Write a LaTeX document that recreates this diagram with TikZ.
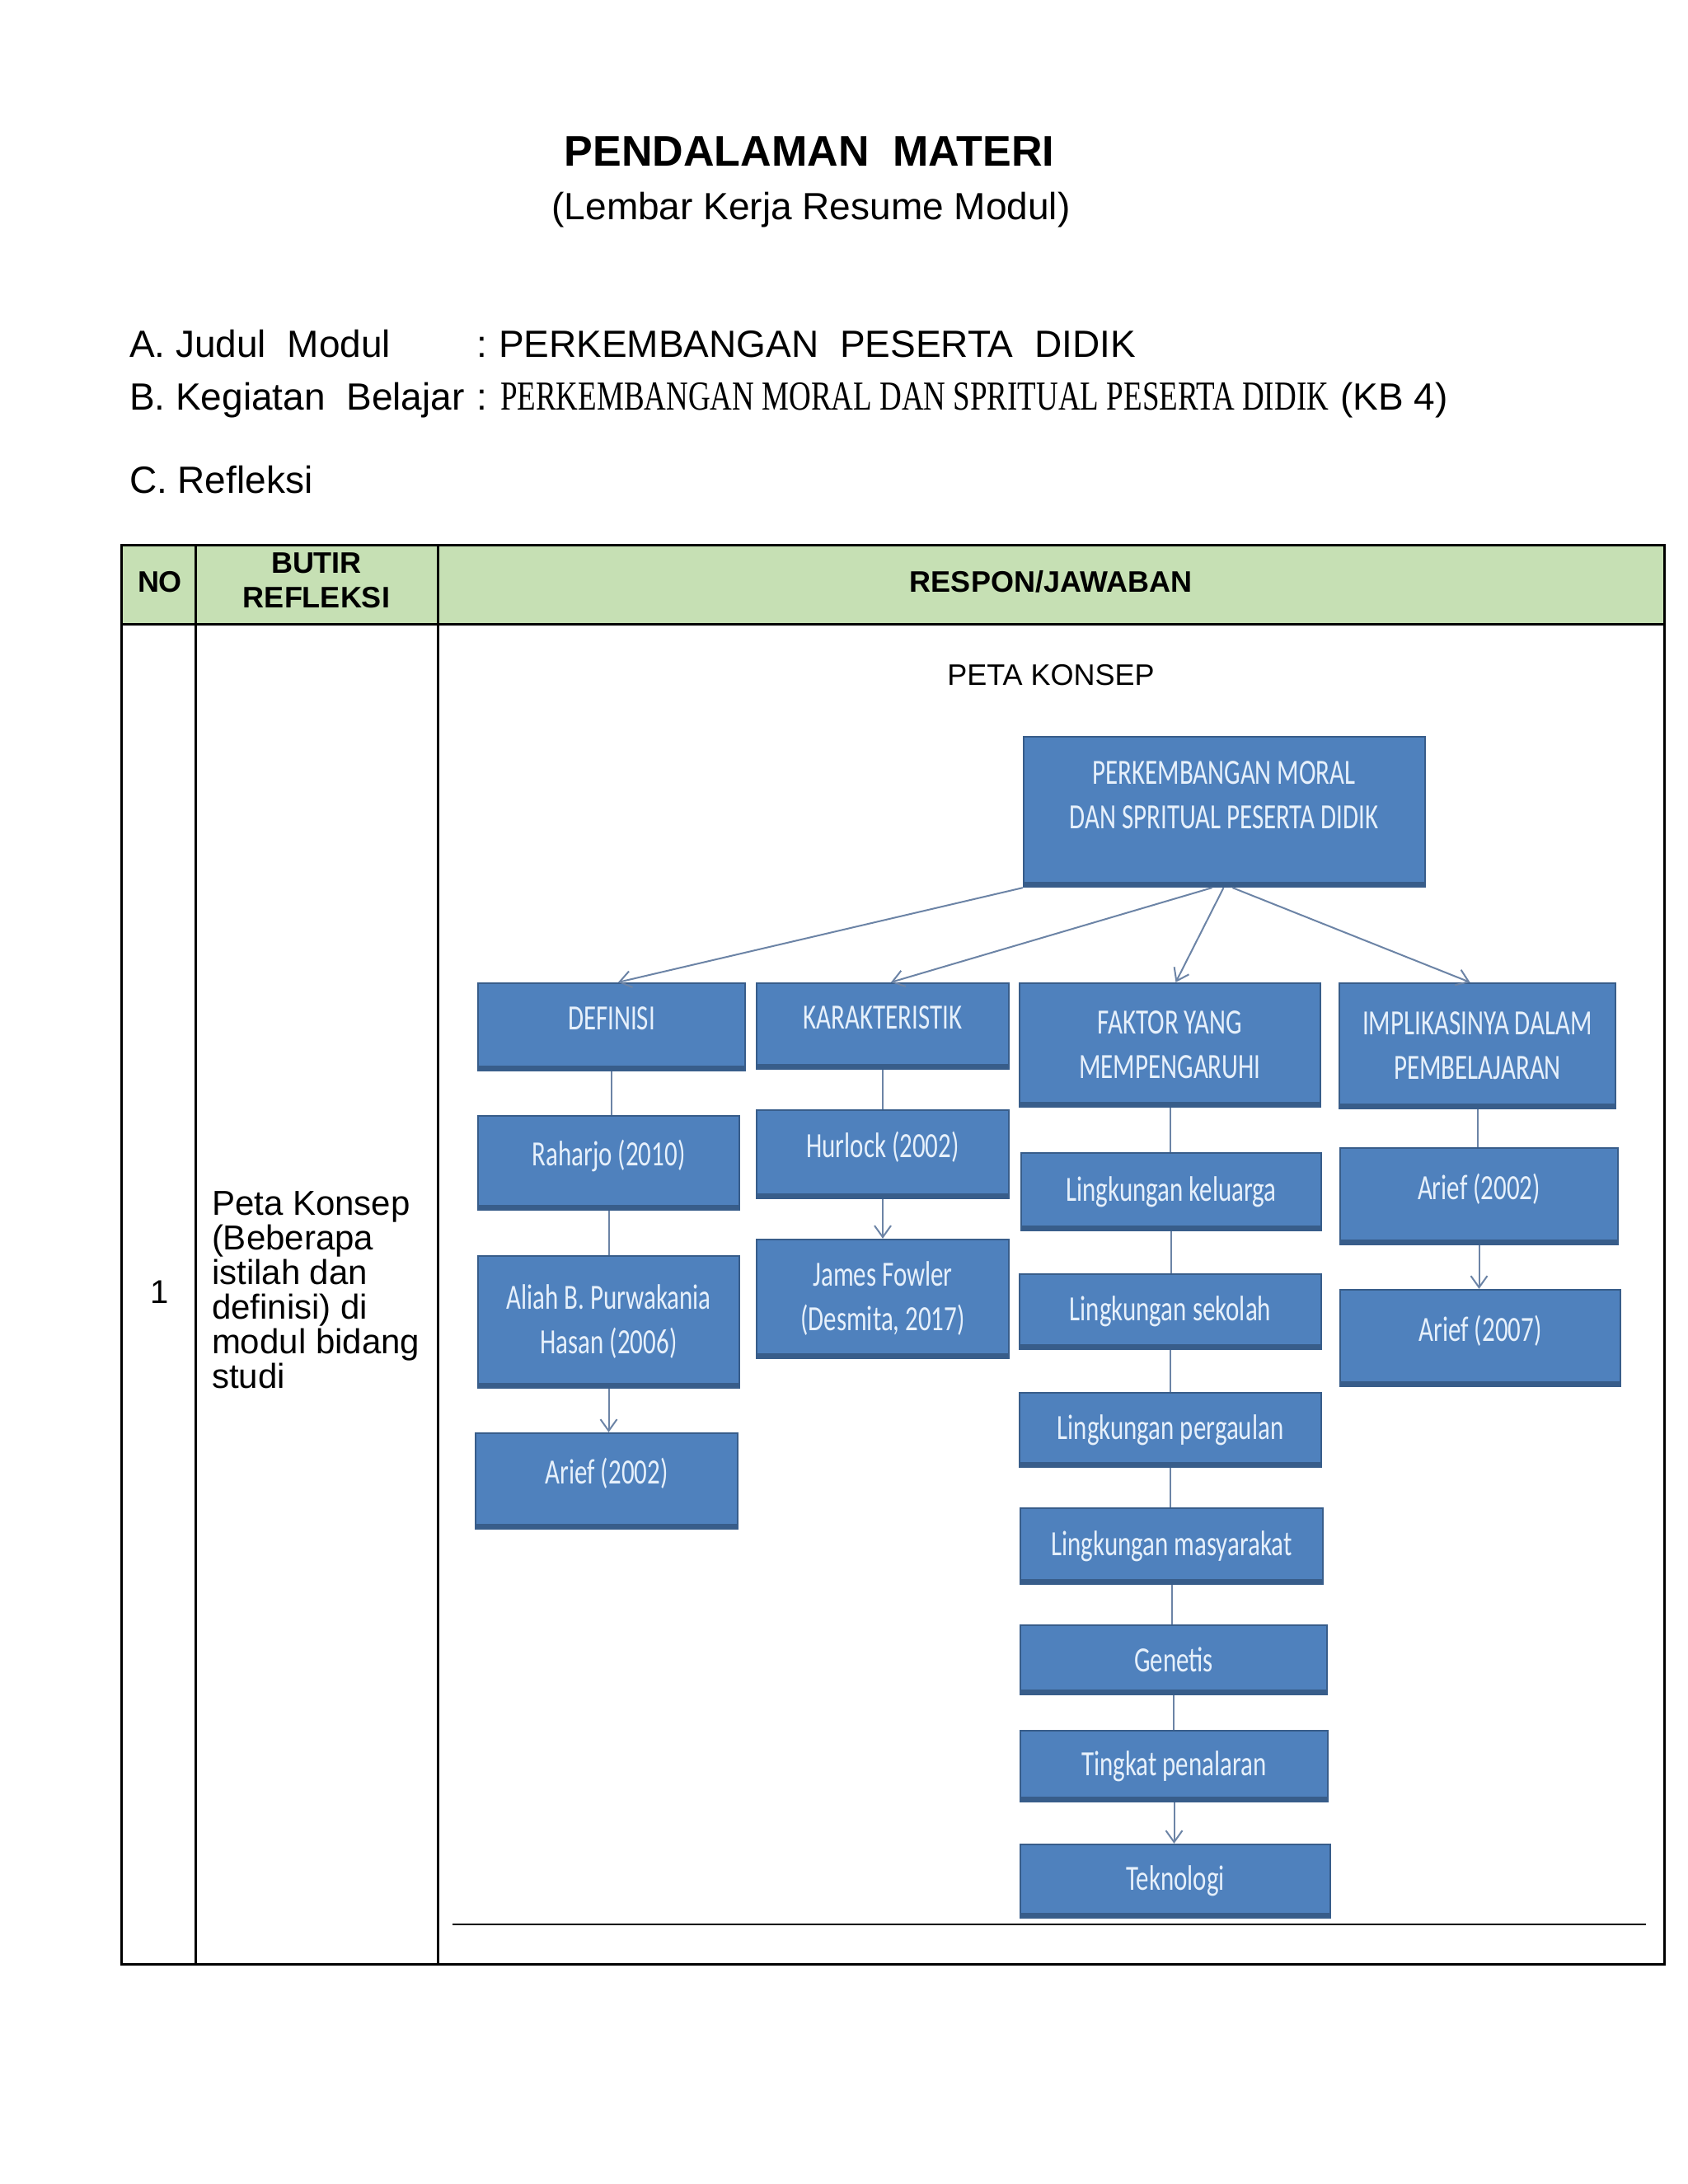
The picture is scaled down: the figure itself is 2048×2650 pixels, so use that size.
\documentclass[tikz,border=0pt]{standalone}
\usepackage{fontspec}
\setmainfont{Liberation Sans}
\newfontfamily\condserif[FakeStretch=0.74]{Liberation Serif}
\newfontfamily\boxfont[FakeStretch=0.72]{Carlito}
\usetikzlibrary{arrows.meta,calc}
\definecolor{hdrgreen}{HTML}{C6E0B4}
\definecolor{boxfill}{HTML}{4F81BD}
\definecolor{boxline}{HTML}{385D8A}
\definecolor{boxtext}{HTML}{E6F0FB}
\definecolor{connline}{HTML}{6C84A6}
\newcommand\fs[2]{\fontsize{#1}{#2}\selectfont}
\newcommand\bx[7][]{\node[cbox, minimum width={(#5-#3)*0.3pt}, minimum height={(#6-#4)*0.3pt}, #1] (#2) at ({(#3+#5)/2},{(#4+#6)/2}) {#7};}
\begin{document}
\begin{tikzpicture}[x=0.3pt,y=-0.3pt,
  txt/.style={inner sep=0pt, outer sep=0pt},
  body/.style={txt, font=\fs{13.8pt}{16pt}},
  hdr/.style={txt, font=\bfseries\fs{10.8pt}{12.6pt}},
  cbox/.style={draw=boxline, line width=0.7pt, fill=boxfill, text=boxtext, align=center,
    inner sep=0pt, font=\boxfont\fs{12.9pt}{16.2pt},
    path picture={\fill[boxline] ([yshift=1.8pt]path picture bounding box.south west) rectangle (path picture bounding box.south east);}},
  lift/.style={text height=9pt, text depth=6.7pt},
  conn/.style={draw=connline, line width=0.6pt},
  arr/.style={conn, -{Straight Barb[length=4.2pt,width=6pt]}},
  tblline/.style={line width=0.9pt, draw=black}
]
\fill[white] (0,0) rectangle (2048,2650);
\useasboundingbox (0,0) rectangle (2048,2650);

% heading
\node[txt, anchor=base, font=\bfseries\fs{15.6pt}{18pt}] (title) at (982,201) {PENDALAMAN\ \ MATERI};
\node[body, anchor=base] (subtitle) at (984,266) {(Lembar Kerja Resume Modul)};
\node[body, anchor=base west] (lblA) at (157,433) {A. Judul\ \ Modul};
\node[body, anchor=base west] (colA) at (578,433) {:};
\node[body, anchor=base west] (valA) at (605,433) {PERKEMBANGAN\ \ PESERTA\ \ DIDIK};
\node[body, anchor=base west] (lblB) at (157,497) {B. Kegiatan\ \ Belajar};
\node[body, anchor=base west] (colB) at (578,497) {:};
\node[txt, anchor=base west, font=\condserif\fs{15pt}{17pt}] (valB) at (607,497) {PERKEMBANGAN MORAL DAN SPRITUAL PESERTA DIDIK};
\node[body, anchor=base west] (kbB) at ($(valB.base east)+(14,0)$) {(KB 4)};
\node[body, anchor=base west] (lblC) at (157,598) {C. Refleksi};

% table
\fill[hdrgreen] (147,661) rectangle (2019,757);
\draw[tblline] (147,661) rectangle (2019,2383);
\draw[tblline] (147,757) -- (2019,757);
\draw[tblline] (237,661) -- (237,2383);
\draw[tblline] (531,661) -- (531,2383);
\draw[line width=0.7pt] (549,2335) -- (1997,2335);

\node[hdr, anchor=base] (hNo) at (194,718) {NO};
\node[hdr, align=center] (hButir) at (384,704) {BUTIR\\REFLEKSI};
\node[hdr, anchor=base] (hResp) at (1275,718) {RESPON/JAWABAN};
\node[txt, anchor=base, font=\fs{10.8pt}{12pt}] (peta) at (1275,831) {PETA KONSEP};
\node[txt, anchor=base, font=\fs{12pt}{14pt}] (no1) at (194,1581) {1};
\node[txt, anchor=north west, align=left, font=\fs{12.6pt}{12.6pt}] (butir1) at (257,1446)
  {Peta Konsep\\(Beberapa\\istilah dan\\definisi) di\\modul bidang\\studi};

% concept map
\bx{root}{1242}{894}{1729}{1076}{}
\node[txt, text=boxtext, align=center, font=\boxfont\fs{12.9pt}{16.2pt}] (roottxt) at (1485,965)
  {PERKEMBANGAN MORAL\\DAN SPRITUAL PESERTA DIDIK};
\bx[lift]{def}{580}{1193}{904}{1299}{DEFINISI}
\bx[lift]{kar}{918}{1193}{1224}{1297}{KARAKTERISTIK}
\bx{fak}{1237}{1193}{1602}{1343}{FAKTOR YANG\\MEMPENGARUHI}
\bx{imp}{1625}{1193}{1960}{1345}{IMPLIKASINYA DALAM\\PEMBELAJARAN}
\bx[lift]{rah}{580}{1354}{897}{1468}{Raharjo (2010)}
\bx{ali}{580}{1524}{897}{1684}{Aliah B. Purwakania\\Hasan (2006)}
\bx[lift]{ariefA}{577}{1739}{895}{1855}{Arief (2002)}
\bx[lift]{hur}{918}{1347}{1224}{1454}{Hurlock (2002)}
\bx{jam}{918}{1504}{1224}{1648}{James Fowler\\(Desmita, 2017)}
\bx{kel}{1239}{1399}{1603}{1493}{Lingkungan keluarga}
\bx{sek}{1237}{1546}{1603}{1637}{Lingkungan sekolah}
\bx{per}{1237}{1690}{1603}{1780}{Lingkungan pergaulan}
\bx{mas}{1238}{1830}{1605}{1922}{Lingkungan masyarakat}
\bx{gen}{1238}{1972}{1610}{2056}{Genetis}
\bx{tin}{1238}{2100}{1611}{2186}{Tingkat penalaran}
\bx{tek}{1238}{2238}{1614}{2327}{Teknologi}
\bx[lift]{ariefB}{1626}{1393}{1963}{1510}{Arief (2002)}
\bx[lift]{ariefC}{1626}{1565}{1966}{1682}{Arief (2007)}

% connectors from root
\coordinate (rK) at ($(root.south)+(-15,0)$);
\coordinate (rF) at ($(root.south)+(-1,0)$);
\coordinate (rI) at ($(root.south)+(10,0)$);
\draw[arr] (root.south west) -- ($(def.north)+(8,0)$);
\draw[arr] (rK) -- ($(kar.north)+(10,0)$);
\draw[arr] (rF) -- ($(fak.north)+(7,0)$);
\draw[arr] (rI) -- ($(imp.north)+(-9,0)$);

% column connectors
\draw[conn] (def.south) -- (def.south |- rah.north);
\draw[conn] (rah.south) -- (rah.south |- ali.north);
\draw[arr] (ali.south) -- (ali.south |- ariefA.north);
\draw[conn] (kar.south) -- (kar.south |- hur.north);
\draw[arr] (hur.south) -- (hur.south |- jam.north);
\draw[conn] (fak.south) -- (fak.south |- kel.north);
\draw[conn] (kel.south) -- (kel.south |- sek.north);
\draw[conn] (sek.south) -- (sek.south |- per.north);
\draw[conn] (per.south) -- (per.south |- mas.north);
\draw[conn] (mas.south) -- (mas.south |- gen.north);
\draw[conn] (gen.south) -- (gen.south |- tin.north);
\draw[arr] (tin.south) -- (tin.south |- tek.north);
\draw[conn] (imp.south) -- (imp.south |- ariefB.north);
\draw[arr] (ariefB.south) -- (ariefB.south |- ariefC.north);
\end{tikzpicture}
\end{document}
